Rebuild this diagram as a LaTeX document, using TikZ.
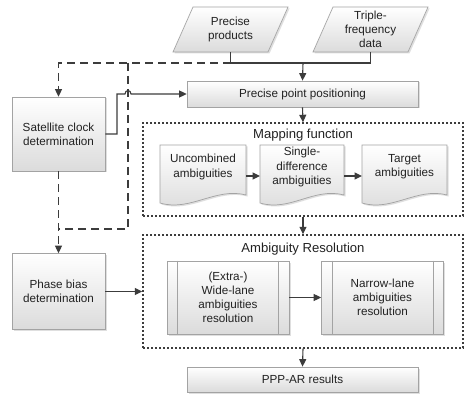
\documentclass[tikz,border=0pt]{standalone}
\usepackage{fontspec}
\setmainfont{Liberation Sans}
\usetikzlibrary{arrows.meta,shadows,calc}
\pgfdeclarelayer{bg}
\pgfsetlayers{bg,main}
\definecolor{linec}{HTML}{3C3C3C}
\definecolor{borderc}{HTML}{A3A3A3}
\definecolor{txtc}{HTML}{222222}
\newcommand\docP[2]{($(#1.center)+(-#2,-22)$) -- ($(#1.center)+(#2,-22)$) -- ($(#1.center)+(#2,28)$) .. controls ($(#1.center)+(#2-30,20)$) and ($(#1.center)+(-#2+30,45)$) .. ($(#1.center)+(-#2,36)$) -- cycle}
\newcommand\parP[1]{($(#1.center)+(-57.5,22.5)$) -- ($(#1.center)+(37.5,22.5)$) -- ($(#1.center)+(57.5,-22.5)$) -- ($(#1.center)+(-37.5,-22.5)$) -- cycle}
\begin{document}
\begin{tikzpicture}[x=1pt,y=-1pt,
  font=\fontsize{11.7}{14.2}\selectfont,
  every node/.style={text=txtc, align=center, inner sep=0pt},
  boxfill/.style={draw=borderc, line width=0.7pt, top color=white, bottom color=black!14},
  rectbox/.style={boxfill, drop shadow={shadow xshift=1.5pt,shadow yshift=-1.5pt,opacity=0.25,fill=black!50}},
  shadowfill/.style={fill=black!50, opacity=0.25, transform canvas={shift={(1.5pt,-1.5pt)}}},
  conn/.style={draw=linec, line width=1.1pt},
  arr/.style={conn, -{Triangle[length=7.5pt,width=7pt]}},
  dashedconn/.style={conn, dash pattern=on 8pt off 5pt},
  dottedframe/.style={draw=linec, line width=1.4pt, dash pattern=on 2.2pt off 1.8pt},
  titlefont/.style={font=\fontsize{13.1}{15}\selectfont}
]
\useasboundingbox (0,0) rectangle (474,401);

% input parallelograms
\node[minimum width=115pt, minimum height=45pt] (pp) at (230.5,29.5) {Precise\\products};
\node[minimum width=115pt, minimum height=45pt] (tf) at (370.5,29.5) {Triple-\\frequency\\data};

% rectangles
\node[rectbox, minimum width=93pt, minimum height=74pt] (clk) at (58.5,134) {Satellite clock\\determination};
\node[rectbox, minimum width=93pt, minimum height=76pt] (pb) at (58.5,291.5) {Phase bias\\determination};
\node[rectbox, minimum width=231pt, minimum height=26pt] (ppp) at (302.5,94) {Precise point positioning};
\node[rectbox, minimum width=231pt, minimum height=25pt] (res) at (302.5,379.5) {PPP-AR results};

% frames
\node[dottedframe, minimum width=320pt, minimum height=93pt] (mf) at (303,169.5) {};
\node[titlefont] (mft) at (303,135) {Mapping function};
\node[dottedframe, minimum width=320pt, minimum height=113pt] (ar) at (303,291.5) {};
\node[titlefont] (art) at (303,249) {Ambiguity Resolution};

% documents
\node[minimum width=86pt] (u) at (203,167) {Uncombined\\ambiguities};
\node[minimum width=84pt] (s) at (302,167) {Single-\\difference\\ambiguities};
\node[minimum width=85pt] (t) at (404.5,167) {Target\\ambiguities};

% predefined processes
\node[rectbox, minimum width=122pt, minimum height=73pt] (wl) at (228,297.5) {(Extra-)\\Wide-lane\\ambiguities\\resolution};
\node[rectbox, minimum width=122pt, minimum height=73pt] (nl) at (382.5,297.5) {Narrow-lane\\ambiguities\\resolution};
\foreach \n in {wl,nl}{
  \draw[draw=borderc, line width=0.7pt] ([xshift=11pt]\n.north west) -- ([xshift=11pt]\n.south west);
  \draw[draw=borderc, line width=0.7pt] ([xshift=-11pt]\n.north east) -- ([xshift=-11pt]\n.south east);
}

\begin{pgfonlayer}{bg}
  \fill[white] (0,0) rectangle (474,401);
  \path[shadowfill] \parP{pp};
  \path[boxfill] \parP{pp};
  \path[shadowfill] \parP{tf};
  \path[boxfill] \parP{tf};
  \path[shadowfill] \docP{u}{43};
  \path[boxfill] \docP{u}{43};
  \path[shadowfill] \docP{s}{42};
  \path[boxfill] \docP{s}{42};
  \path[shadowfill] \docP{t}{42.5};
  \path[boxfill] \docP{t}{42.5};
\end{pgfonlayer}

% junction coordinates
\coordinate (j1) at (230.5,63);
\coordinate (j2) at (370.5,63);
\coordinate (jm) at (303,63);
\coordinate (dl) at (58.5,63);
\coordinate (d1) at (128,63);
\coordinate (d2) at (128,229);
\coordinate (d3) at (58.5,229);

% solid input lines
\draw[conn] (pp.south) -- (j1);
\draw[conn] (tf.south) -- (j2) -- (j1);
\draw[arr] (jm) -- (ppp.north);

% dashed lines
\draw[dashedconn, -{Triangle[length=7.5pt,width=7pt]}] (j1) -- (dl) -- (clk.north);
\draw[dashedconn] (d1) -- (d2) -- (d3);
\draw[dashedconn, -{Triangle[length=7.5pt,width=7pt]}] (clk.south) -- (pb.north);

% clock to PPP with hop
\draw[arr] (clk.east) -- (117,134) -- (117,94) -- (125,94) .. controls (125,89.5) and (131,89.5) .. (131,94) -- (ppp.west);

% main flow
\draw[arr] (ppp.south) -- (mf.north);
\draw[arr] ($(u.center)+(43,9)$) -- ($(s.center)+(-42,9)$);
\draw[arr] ($(s.center)+(42,9)$) -- ($(t.center)+(-42.5,9)$);
\draw[arr] (mf.south) -- (ar.north);
\draw[arr] (pb.east) -- (ar.west);
\draw[arr] (wl.east) -- (nl.west);
\draw[arr] (ar.south) -- (res.north);
\end{tikzpicture}
\end{document}
